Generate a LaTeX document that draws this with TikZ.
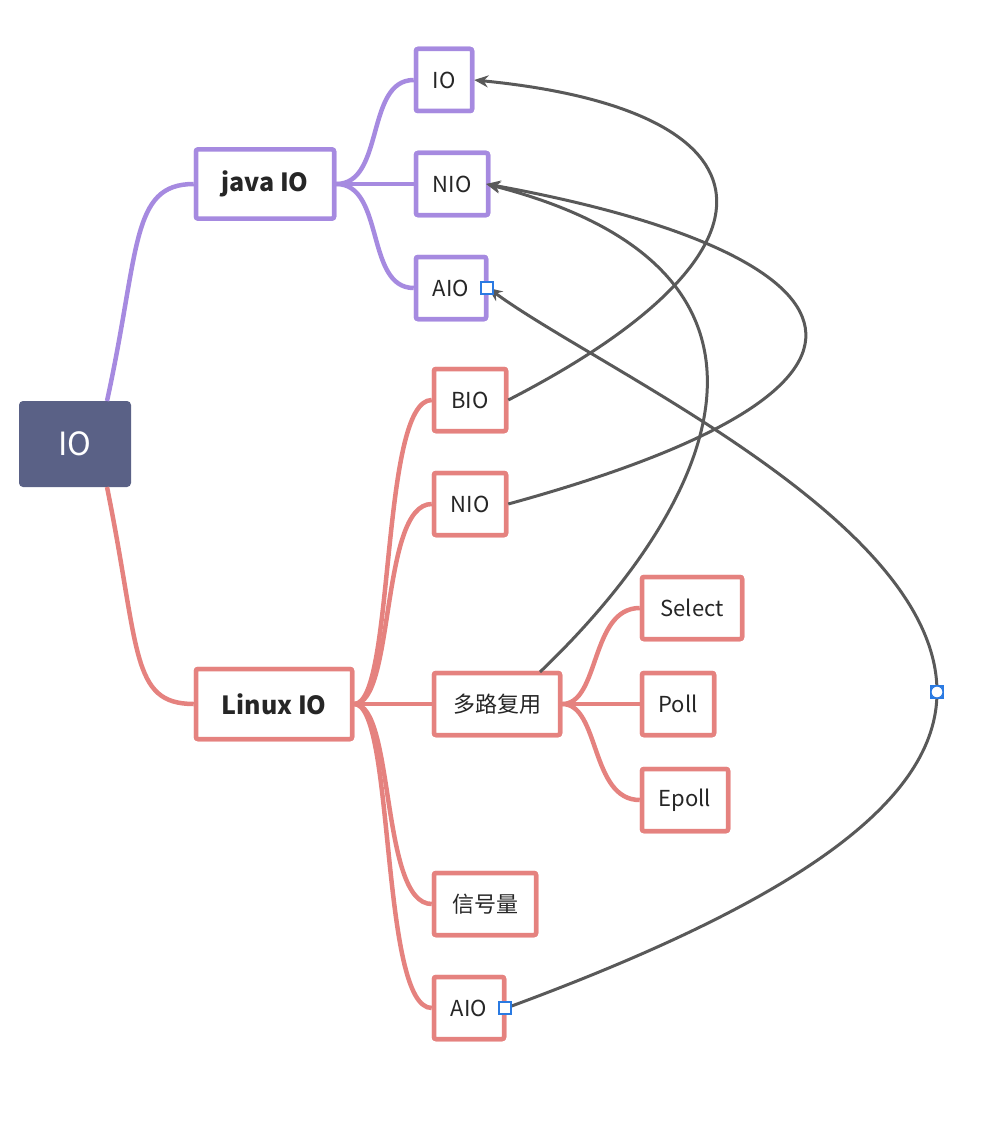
\documentclass[tikz,border=0pt]{standalone}
\usepackage{fontspec}
\setmainfont{Noto Sans CJK SC}
\usetikzlibrary{arrows.meta}
\definecolor{purp}{HTML}{A68AE0}
\definecolor{redl}{HTML}{E5827F}
\definecolor{rootc}{HTML}{5A6186}
\definecolor{arr}{HTML}{595959}
\definecolor{sel}{HTML}{2A7AE2}
\begin{document}
\begin{tikzpicture}[x=1pt,y=-1pt,
  box/.style={draw,line width=4.5pt,fill=white,rounded corners=2pt,minimum height=62pt,inner xsep=12pt,font=\fontsize{22}{26}\selectfont,text=black!85},
  pbox/.style={box,draw=purp},
  rbox/.style={box,draw=redl},
  pl/.style={purp,line width=4.5pt},
  rl/.style={redl,line width=4.5pt},
  ga/.style={arr,line width=3pt,-{Stealth[length=14pt,width=12pt]}},
  hnd/.style={draw=sel,fill=white,line width=1.2pt}]
\useasboundingbox (0,0) rectangle (992,1126);
\node[fill=rootc,rounded corners=4pt,minimum width=112pt,minimum height=86pt,text=white,font=\fontsize{32}{36}\selectfont] (root) at (75,444) {IO};
\node[pbox,minimum width=138pt,minimum height=69pt,font=\fontsize{25}{30}\selectfont\bfseries] (jio) at (265,184) {java IO};
\node[rbox,minimum width=156pt,minimum height=70pt,font=\fontsize{25}{30}\selectfont\bfseries] (lio) at (274,704) {Linux IO};
\node[pbox,minimum width=56pt] (jio1) at (444,80) {IO};
\node[pbox,minimum width=72pt] (jnio) at (452,184) {NIO};
\node[pbox,minimum width=70pt] (jaio) at (451,288) {AIO};
\node[rbox,minimum width=72pt] (bio) at (470,400) {BIO};
\node[rbox,minimum width=72pt] (lnio) at (470,504) {NIO};
\node[rbox,minimum width=126pt] (mux) at (497,704) {多路复用};
\node[rbox,minimum width=100pt] (selc) at (692,608) {Select};
\node[rbox,minimum width=72pt] (poll) at (678,704) {Poll};
\node[rbox,minimum width=86pt] (epoll) at (685,800) {Epoll};
\node[rbox,minimum width=102pt] (sig) at (485,904) {信号量};
\node[rbox,minimum width=70pt] (laio) at (469,1008) {AIO};
\begin{scope}[on background layer/.style={}]
\end{scope}
% tree connectors
\draw[pl] (107,401) .. controls (140,250) and (130,184) .. (jio.west);
\draw[rl] (107,487) .. controls (140,650) and (130,704) .. (lio.west);
\foreach \t in {jio1,jnio,jaio} \draw[pl] (jio.east) .. controls (385,184) and (365,0|-\t.west) .. (\t.west);
\foreach \t in {bio,lnio,mux,sig,laio} \draw[rl] (lio.east) .. controls (395,704) and (380,0|-\t.west) .. (\t.west);
\foreach \t in {selc,poll,epoll} \draw[rl] (mux.east) .. controls (600,704) and (590,0|-\t.west) .. (\t.west);
% redraw nodes on top
\foreach \n/\s/\w/\x/\y/\tx in {jio1/pbox/56/444/80/IO,jnio/pbox/72/452/184/NIO,jaio/pbox/70/451/288/AIO,bio/rbox/72/470/400/BIO,lnio/rbox/72/470/504/NIO,selc/rbox/100/692/608/Select,poll/rbox/72/678/704/Poll,epoll/rbox/86/685/800/Epoll,sig/rbox/102/485/904/信号量,laio/rbox/70/469/1008/AIO,mux/rbox/126/497/704/多路复用}
  \node[\s,minimum width=\w pt] at (\x,\y) {\tx};
\node[pbox,minimum width=138pt,minimum height=69pt,font=\fontsize{25}{30}\selectfont\bfseries] at (265,184) {java IO};
\node[rbox,minimum width=156pt,minimum height=70pt,font=\fontsize{25}{30}\selectfont\bfseries] at (274,704) {Linux IO};
% gray arrows
\draw[ga] (bio.east) .. controls (800,250) and (780,110) .. (jio1.east);
\draw[ga] (lnio.east) .. controls (960,380) and (850,250) .. ([xshift=-4pt]jnio.east);
\draw[ga] (540,672) .. controls (720,500) and (820,270) .. ([xshift=-4pt]jnio.east);
\draw[ga] (laio.east) .. controls (800,900) and (937,800) .. (937,692) .. controls (937,520) and (600,370) .. (jaio.east);
\draw[hnd] (931,686) rectangle (943,698);
\draw[hnd] (937,692) circle (6pt);
\draw[hnd] (481,282) rectangle (493,294);
\draw[hnd] (499,1002) rectangle (511,1014);
\end{tikzpicture}
\end{document}
